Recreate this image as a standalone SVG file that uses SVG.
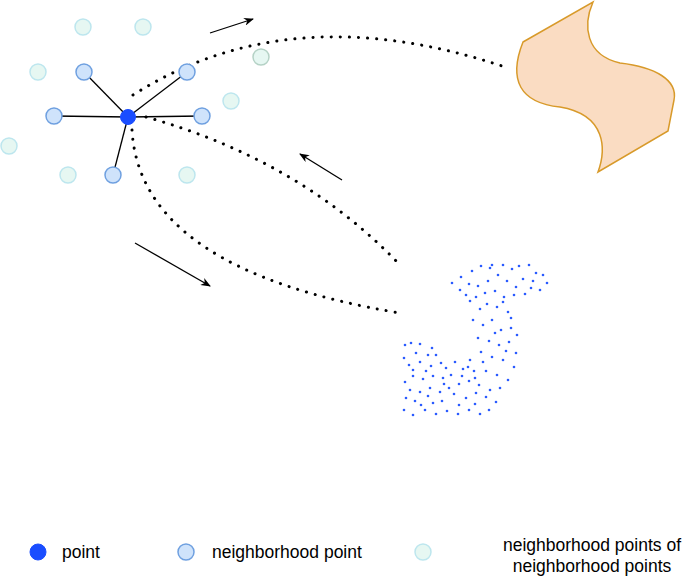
<svg xmlns="http://www.w3.org/2000/svg" width="685" height="576" viewBox="0 0 685 576">
<style>
.dot{fill:none;stroke:#000;stroke-width:3;stroke-dasharray:0.1 9;stroke-linecap:round}
.ar{stroke:#000;stroke-width:1.3;fill:none;marker-end:url(#ah)}
.e{stroke:#000;stroke-width:1.3}
.c{fill:#1a4dff;stroke:#1a4dff}
.n{fill:#cfe3fb;stroke:#6fa0e0;stroke-width:1.5}
.o{fill:#e6f7f2;stroke:#bde6ee;stroke-width:1.5}
.p circle{fill:#2a5bff}
text{font-family:"Liberation Sans",Arial,sans-serif;font-size:17.5px;fill:#000}
</style>
<defs><marker id="ah" markerWidth="10" markerHeight="8" refX="9" refY="4" orient="auto" markerUnits="userSpaceOnUse"><path d="M0,0 L10,4 L0,8 L3,4 Z" fill="#000"/></marker></defs>
<g id="connectors">
<path class="dot" d="M133,95 Q290,-5 505,67"/>
<path class="dot" d="M146,117 Q300,160 400,265"/>
<path class="dot" d="M132,130 Q140,270 400,313"/>
<line class="ar" x1="210" y1="33" x2="253" y2="19"/>
<line class="ar" x1="342" y1="180" x2="300" y2="154"/>
<line class="ar" x1="135" y1="243" x2="210" y2="286"/>
<line class="e" x1="128" y1="117" x2="84" y2="72"/>
<line class="e" x1="128" y1="117" x2="187" y2="72"/>
<line class="e" x1="128" y1="117" x2="54" y2="116"/>
<line class="e" x1="128" y1="117" x2="202" y2="116"/>
<line class="e" x1="128" y1="117" x2="113" y2="175"/>
</g>
<g id="outer">
<circle class="o" cx="83" cy="27" r="8"/><circle class="o" cx="143" cy="27" r="8"/>
<circle class="o" cx="38" cy="72" r="8"/><circle class="o" cx="231" cy="101" r="8"/>
<circle class="o" cx="9" cy="146" r="8"/><circle class="o" cx="68" cy="175" r="8"/>
<circle class="o" cx="187" cy="175" r="8"/><circle class="o" cx="261" cy="57" r="8" style="stroke:#b5d2c6"/>
</g>
<g id="neighbors">
<circle class="n" cx="84" cy="72" r="8"/><circle class="n" cx="187" cy="72" r="8"/>
<circle class="n" cx="54" cy="116" r="8"/><circle class="n" cx="202" cy="116" r="8"/>
<circle class="n" cx="113" cy="175" r="8"/>
</g>
<g id="center"><circle class="c" cx="128" cy="117" r="7.5"/></g>
<g id="surface"><path d="M523,42 L593,2 C583,25 585,55 620,63 C655,67 678,80 674,100 L668,131 L598,172 C606,150 607,115 560,107 C520,103 508,80 523,42 Z" fill="#fadcc2" stroke="#d89a2a" stroke-width="1.5"/></g>
<g id="pointcloud" class="p">
<circle cx="452" cy="283" r="1.3"/><circle cx="461" cy="277" r="1.3"/><circle cx="472" cy="271" r="1.3"/><circle cx="481" cy="266" r="1.3"/><circle cx="492" cy="265" r="1.3"/><circle cx="503" cy="265" r="1.3"/><circle cx="512" cy="269" r="1.3"/><circle cx="519" cy="266" r="1.3"/><circle cx="529" cy="265" r="1.3"/><circle cx="536" cy="273" r="1.3"/><circle cx="547" cy="283" r="1.3"/><circle cx="540" cy="290" r="1.3"/><circle cx="531" cy="288" r="1.3"/><circle cx="523" cy="279" r="1.3"/><circle cx="516" cy="287" r="1.3"/><circle cx="507" cy="281" r="1.3"/><circle cx="498" cy="275" r="1.3"/><circle cx="488" cy="281" r="1.3"/><circle cx="478" cy="286" r="1.3"/><circle cx="469" cy="284" r="1.3"/><circle cx="460" cy="290" r="1.3"/><circle cx="466" cy="295" r="1.3"/><circle cx="476" cy="297" r="1.3"/><circle cx="485" cy="293" r="1.3"/><circle cx="495" cy="291" r="1.3"/><circle cx="504" cy="297" r="1.3"/><circle cx="514" cy="295" r="1.3"/><circle cx="525" cy="294" r="1.3"/><circle cx="533" cy="281" r="1.3"/><circle cx="543" cy="275" r="1.3"/><circle cx="490" cy="268" r="1.3"/><circle cx="470" cy="301" r="1.3"/><circle cx="480" cy="309" r="1.3"/><circle cx="487" cy="304" r="1.3"/><circle cx="497" cy="307" r="1.3"/><circle cx="508" cy="312" r="1.3"/><circle cx="473" cy="320" r="1.3"/><circle cx="483" cy="325" r="1.3"/><circle cx="492" cy="320" r="1.3"/><circle cx="501" cy="330" r="1.3"/><circle cx="511" cy="328" r="1.3"/><circle cx="478" cy="338" r="1.3"/><circle cx="489" cy="341" r="1.3"/><circle cx="499" cy="345" r="1.3"/><circle cx="509" cy="342" r="1.3"/><circle cx="516" cy="353" r="1.3"/><circle cx="481" cy="352" r="1.3"/><circle cx="492" cy="357" r="1.3"/><circle cx="503" cy="360" r="1.3"/><circle cx="514" cy="367" r="1.3"/><circle cx="470" cy="360" r="1.3"/><circle cx="486" cy="371" r="1.3"/><circle cx="497" cy="375" r="1.3"/><circle cx="508" cy="380" r="1.3"/><circle cx="475" cy="378" r="1.3"/><circle cx="511" cy="318" r="1.3"/><circle cx="503" cy="302" r="1.3"/><circle cx="517" cy="335" r="1.3"/><circle cx="506" cy="351" r="1.3"/><circle cx="495" cy="333" r="1.3"/>
<circle cx="405" cy="345" r="1.3"/><circle cx="411" cy="343" r="1.3"/><circle cx="420" cy="344" r="1.3"/><circle cx="432" cy="348" r="1.3"/><circle cx="436" cy="355" r="1.3"/><circle cx="428" cy="355" r="1.3"/><circle cx="416" cy="353" r="1.3"/><circle cx="404" cy="358" r="1.3"/><circle cx="409" cy="365" r="1.3"/><circle cx="420" cy="362" r="1.3"/><circle cx="431" cy="366" r="1.3"/><circle cx="441" cy="363" r="1.3"/><circle cx="446" cy="368" r="1.3"/><circle cx="455" cy="362" r="1.3"/><circle cx="463" cy="369" r="1.3"/><circle cx="468" cy="367" r="1.3"/><circle cx="451" cy="375" r="1.3"/><circle cx="443" cy="378" r="1.3"/><circle cx="433" cy="376" r="1.3"/><circle cx="423" cy="379" r="1.3"/><circle cx="413" cy="376" r="1.3"/><circle cx="405" cy="382" r="1.3"/><circle cx="410" cy="390" r="1.3"/><circle cx="420" cy="392" r="1.3"/><circle cx="430" cy="388" r="1.3"/><circle cx="440" cy="392" r="1.3"/><circle cx="449" cy="388" r="1.3"/><circle cx="459" cy="384" r="1.3"/><circle cx="469" cy="381" r="1.3"/><circle cx="479" cy="385" r="1.3"/><circle cx="490" cy="390" r="1.3"/><circle cx="500" cy="388" r="1.3"/><circle cx="406" cy="398" r="1.3"/><circle cx="415" cy="401" r="1.3"/><circle cx="428" cy="396" r="1.3"/><circle cx="442" cy="401" r="1.3"/><circle cx="454" cy="394" r="1.3"/><circle cx="466" cy="398" r="1.3"/><circle cx="476" cy="393" r="1.3"/><circle cx="486" cy="397" r="1.3"/><circle cx="496" cy="402" r="1.3"/><circle cx="404" cy="410" r="1.3"/><circle cx="413" cy="415" r="1.3"/><circle cx="425" cy="410" r="1.3"/><circle cx="436" cy="414" r="1.3"/><circle cx="447" cy="411" r="1.3"/><circle cx="458" cy="414" r="1.3"/><circle cx="469" cy="410" r="1.3"/><circle cx="480" cy="414" r="1.3"/><circle cx="489" cy="410" r="1.3"/><circle cx="475" cy="404" r="1.3"/><circle cx="459" cy="405" r="1.3"/><circle cx="433" cy="403" r="1.3"/><circle cx="421" cy="405" r="1.3"/><circle cx="444" cy="384" r="1.3"/><circle cx="462" cy="376" r="1.3"/><circle cx="474" cy="371" r="1.3"/><circle cx="483" cy="362" r="1.3"/><circle cx="413" cy="370" r="1.3"/><circle cx="426" cy="371" r="1.3"/>
</g>
<g id="legend">
<circle class="c" cx="38" cy="552" r="8"/><text x="62" y="558">point</text>
<circle class="n" cx="186" cy="552" r="8"/><text x="212" y="558">neighborhood point</text>
<circle class="o" cx="423" cy="552" r="8"/>
<text x="592" y="551" text-anchor="middle">neighborhood points of</text>
<text x="592" y="572" text-anchor="middle">neighborhood points</text>
</g>
</svg>
